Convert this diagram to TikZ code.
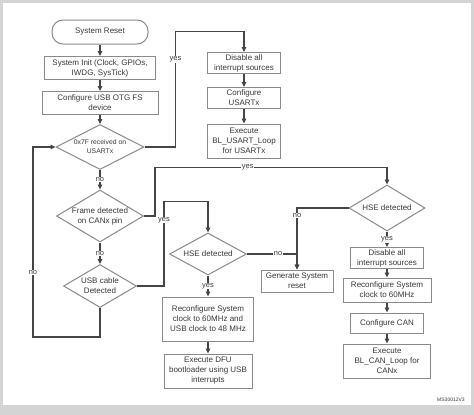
\documentclass[tikz,border=0pt]{standalone}
\usepackage{fontspec}
\setmainfont{Liberation Sans}
\usetikzlibrary{shapes.geometric,arrows.meta}
\definecolor{edge}{HTML}{8A8A8A}
\definecolor{wire}{HTML}{454545}
\definecolor{ink}{HTML}{383838}
\begin{document}
\begin{tikzpicture}[x=1pt,y=-1pt,
    box/.style={draw=edge,line width=1pt,fill=white,text=ink,align=center,inner sep=1pt,font=\fontsize{8}{10}\selectfont},
    dec/.style={diamond,draw=edge,line width=1pt,fill=white,inner sep=0pt},
    dtxt/.style={text=ink,align=center,font=\fontsize{8}{10}\selectfont},
    flow/.style={draw=wire,line width=1.3pt},
    arr/.style={flow,-{Triangle[length=5pt,width=4.5pt]}},
    lbl/.style={text=ink,font=\fontsize{7.5}{9}\selectfont,fill=white,inner sep=0.6pt}]
  \fill[black!17] (0,0) rectangle (474,415);
  \fill[white] (3,3) rectangle (471,405);
  \node[box,rounded corners=11pt,minimum width=96pt,minimum height=24pt] (reset) at (100,32) {System Reset};
  \node[box,minimum width=111pt,minimum height=23pt] (init) at (100,68) {System Init (Clock, GPIOs,\\IWDG, SysTick)};
  \node[box,minimum width=116pt,minimum height=23pt] (otg) at (100,103) {Configure USB OTG FS\\device};
  \node[dec,minimum width=88pt,minimum height=45pt,label={[dtxt,font=\fontsize{6.8}{9}\selectfont]center:0x7F received on\\USARTx}] (usart) at (100,147) {};
  \node[dec,minimum width=87pt,minimum height=52pt,label={[dtxt]center:Frame detected\\on CANx pin}] (can) at (100,216) {};
  \node[dec,minimum width=73pt,minimum height=43pt,label={[dtxt]center:USB cable\\Detected}] (usb) at (100,286) {};
  \node[dec,minimum width=77pt,minimum height=42pt,label={[dtxt]center:HSE detected}] (hseL) at (208,254) {};
  \node[dec,minimum width=76pt,minimum height=46pt,label={[dtxt]center:HSE detected}] (hseR) at (387,208) {};
  \node[box,minimum width=73pt,minimum height=21pt] (disU) at (244,63) {Disable all\\interrupt sources};
  \node[box,minimum width=73pt,minimum height=21pt] (cfgU) at (244,98) {Configure\\USARTx};
  \node[box,minimum width=73pt,minimum height=34pt] (exeU) at (244,141) {Execute\\BL\_USART\_Loop\\for USARTx};
  \node[box,minimum width=91pt,minimum height=44pt] (clkU) at (208,319) {Reconfigure System\\clock to 60MHz and\\USB clock to 48 MHz};
  \node[box,minimum width=88pt,minimum height=34pt] (dfu) at (208,371) {Execute DFU\\bootloader using USB\\interrupts};
  \node[box,minimum width=72pt,minimum height=22pt] (sysrst) at (297,281) {Generate System\\reset};
  \node[box,minimum width=73pt,minimum height=21pt] (disC) at (387,258) {Disable all\\interrupt sources};
  \node[box,minimum width=88pt,minimum height=24pt] (clkC) at (387,290) {Reconfigure System\\clock to 60MHz};
  \node[box,minimum width=73pt,minimum height=20pt] (cfgC) at (387,323) {Configure CAN};
  \node[box,minimum width=87pt,minimum height=34pt] (exeC) at (387,361) {Execute\\BL\_CAN\_Loop for\\CANx};
  \node[text=ink,font=\fontsize{5}{6}\selectfont] (ref) at (451,400) {MS30012V3};
  \draw[arr] (reset) -- (init);
  \draw[arr] (init) -- (otg);
  \draw[arr] (otg) -- (usart);
  \draw[arr] (usart) -- node[lbl]{no} (can);
  \draw[arr] (can) -- node[lbl]{no} (usb);
  \draw[arr] (usb.south) -- ++(0,29) -- ++(-67,0) |- node[lbl,pos=0.17]{no} (usart.west);
  \draw[arr] (usart.east) -- ++(31,0) |- node[lbl,pos=0.38]{yes} ([yshift=20.5pt]disU.north) -- (disU.north);
  \draw[arr] (disU) -- (cfgU);
  \draw[arr] (cfgU) -- (exeU);
  \draw[arr] (can.east) -- ++(11,0) |- node[lbl,pos=0.7]{yes} ([yshift=17pt]hseR.north) -- (hseR.north);
  \draw[arr] (usb.east) -- ++(27,0) |- node[lbl,pos=0.39]{yes} ([yshift=31pt]hseL.north) -- (hseL.north);
  \draw[arr] (hseL) -- node[lbl]{yes} (clkU);
  \draw[arr] (clkU) -- (dfu);
  \draw[arr] (hseL.east) -- node[lbl,pos=0.62]{no} (hseL.east -| sysrst.north) -- (sysrst.north);
  \draw[arr] (hseR.west) -| node[lbl,pos=0.56]{no} (sysrst.north);
  \draw[arr] (hseR) -- node[lbl]{yes} (disC);
  \draw[arr] (disC) -- (clkC);
  \draw[arr] (clkC) -- (cfgC);
  \draw[arr] (cfgC) -- (exeC);
\end{tikzpicture}
\end{document}
